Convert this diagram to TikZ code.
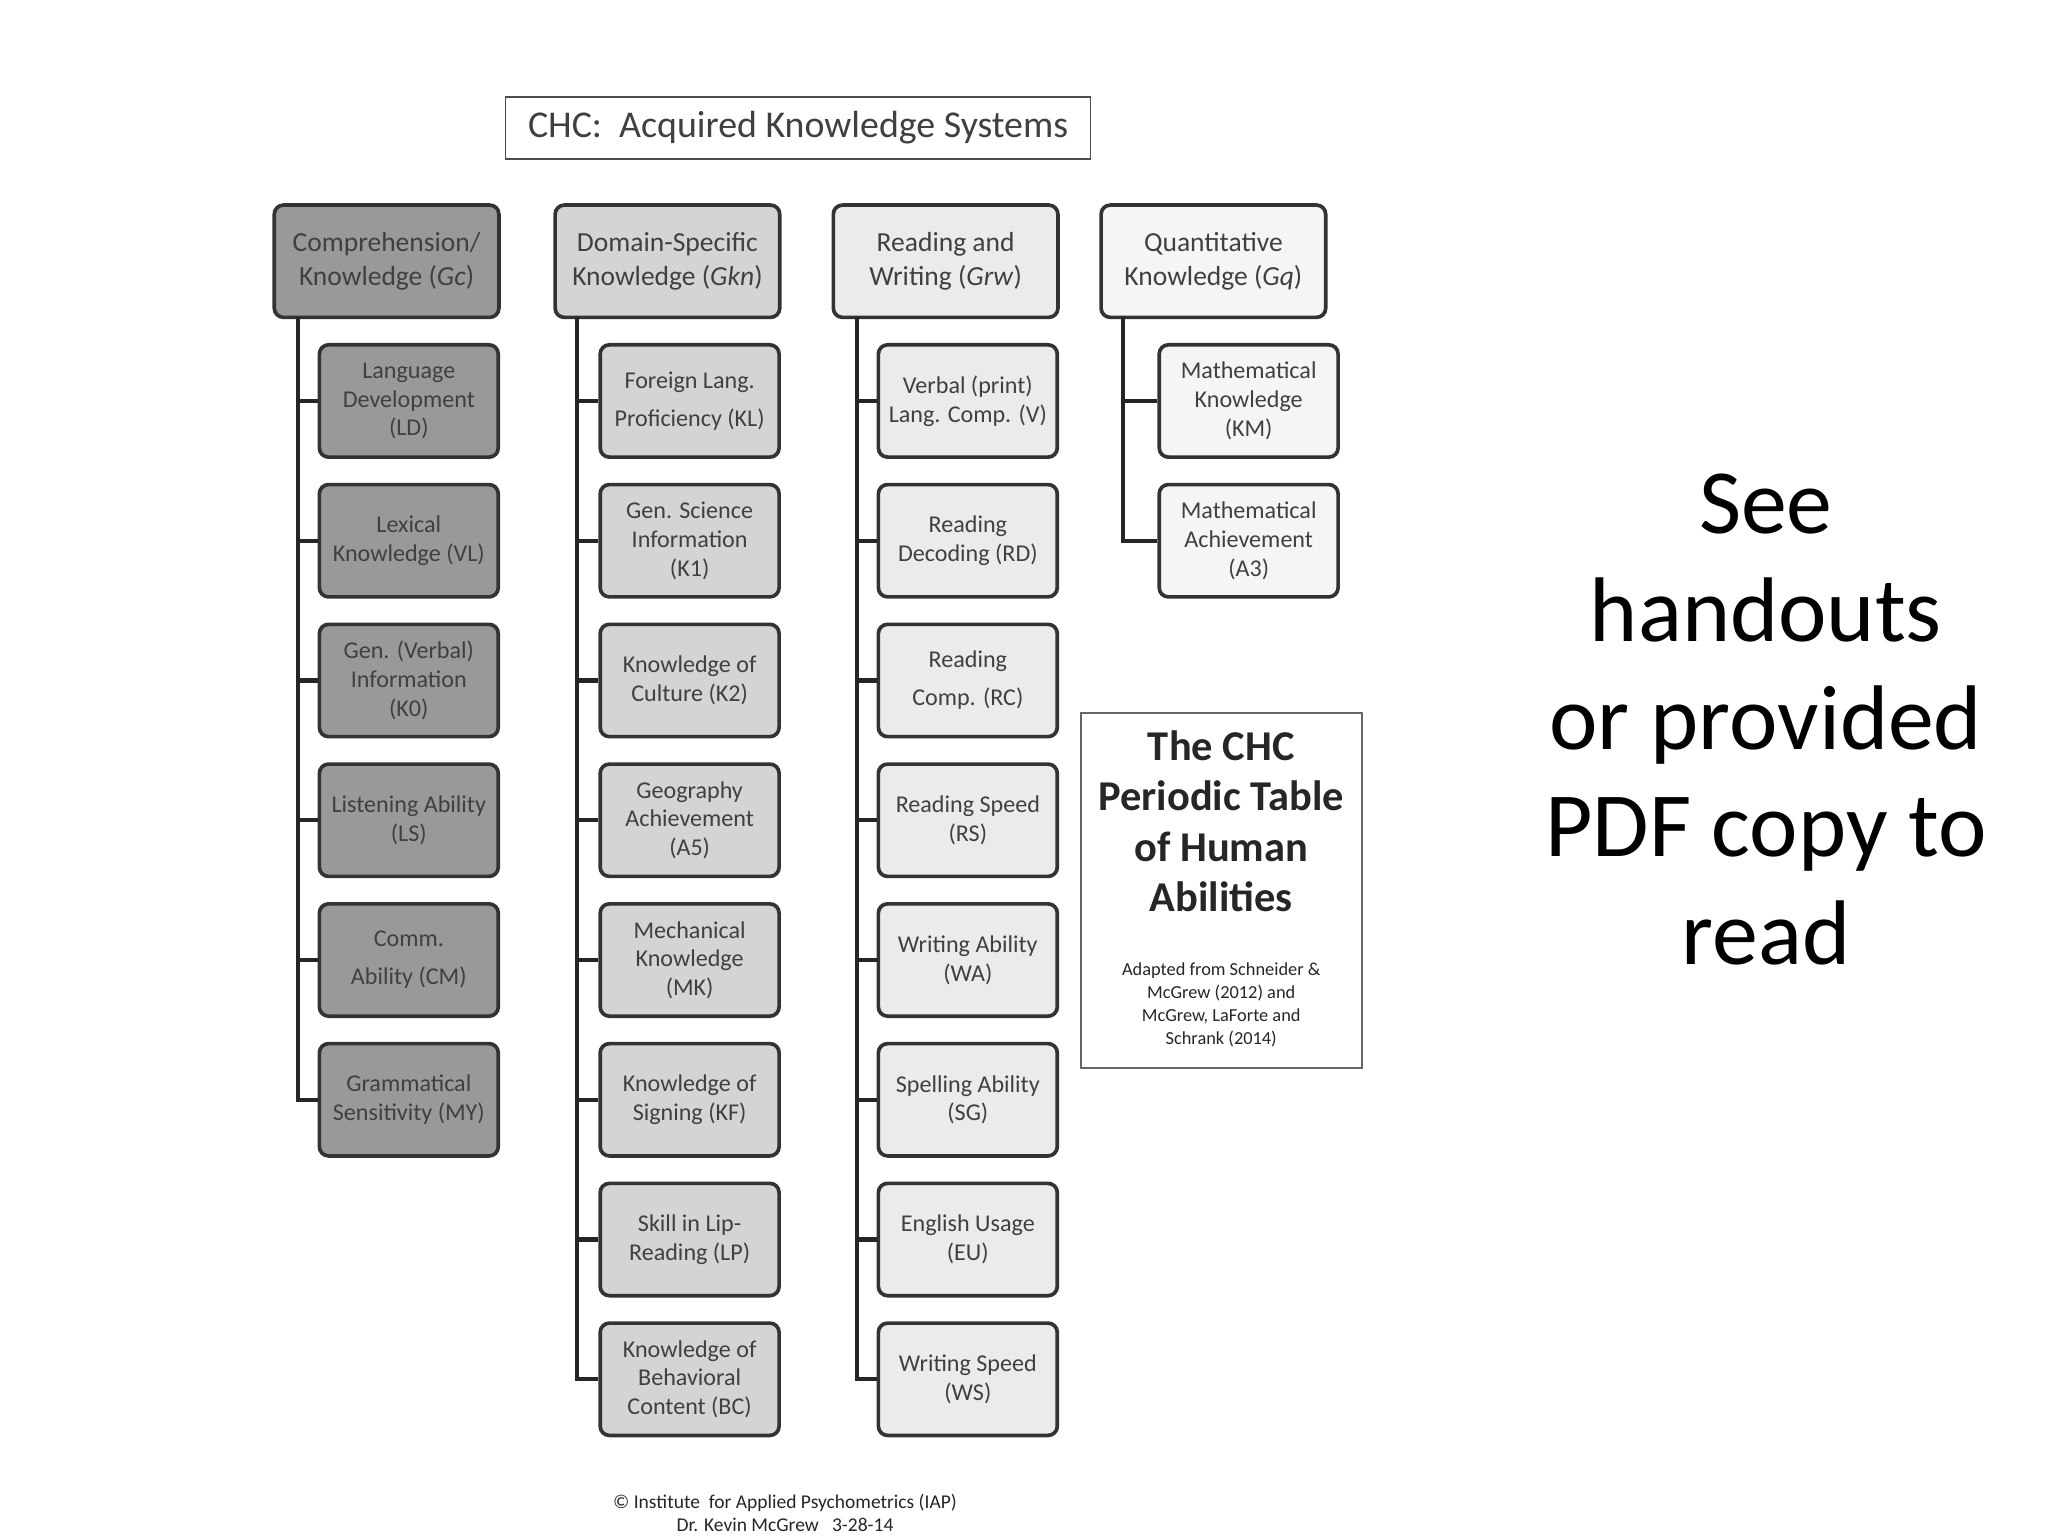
\documentclass[tikz,border=0pt]{standalone}
\usepackage{fontspec}
\setmainfont{Carlito}
\begin{document}
\begin{tikzpicture}[x=0.02cm,y=-0.02cm,
  box/.style={draw=black!80,line width=1.6pt,rounded corners=4pt,align=center,
    minimum width=2.74cm,minimum height=1.72cm,font=\fontsize{10.5}{12.5}\selectfont,text=black!75,inner sep=1pt},
  head/.style={box,minimum width=3.44cm,font=\fontsize{12}{14.5}\selectfont},
  conn/.style={draw=black!85,line width=1.8pt}]
\useasboundingbox (0,0) rectangle (1568,1176);
\fill[white] (0,0) rectangle (1568,1176);
\node[draw=black!70,line width=0.8pt,minimum width=8.96cm,minimum height=0.96cm,font=\fontsize{16.5}{18}\selectfont,text=black!75] (title) at (611,98) {CHC:\ \ Acquired Knowledge Systems};
% headers
\node[head,fill=black!40] (h1) at (296,200) {Comprehension/\\Knowledge (\textit{Gc})};
\node[head,fill=black!17] (h2) at (511,200) {Domain-Specific\\Knowledge (\textit{Gkn})};
\node[head,fill=black!8] (h3) at (724,200) {Reading and\\Writing (\textit{Grw})};
\node[head,fill=black!4] (h4) at (929,200) {Quantitative\\Knowledge (\textit{Gq})};
% column 1
\foreach \t [count=\i] in {Language\\Development\\(LD),Lexical\\Knowledge (VL),Gen. (Verbal)\\Information\\(K0),Listening Ability\\(LS),Comm.\\[4pt]Ability (CM),Grammatical\\Sensitivity (MY)}{
  \node[box,fill=black!40] (a\i) at (313,{307+107*(\i-1)}) {\t};
  \draw[conn] (228,243) |- (a\i.west);
}
\foreach \t [count=\i] in {Foreign Lang.\\[4pt]Proficiency (KL),Gen. Science\\Information\\(K1),Knowledge of\\Culture (K2),Geography\\Achievement\\(A5),Mechanical\\Knowledge\\(MK),Knowledge of\\Signing (KF),Skill in Lip-\\Reading (LP),Knowledge of\\Behavioral\\Content (BC)}{
  \node[box,fill=black!17] (b\i) at (528,{307+107*(\i-1)}) {\t};
  \draw[conn] (442,243) |- (b\i.west);
}
\foreach \t [count=\i] in {Verbal (print)\\Lang. Comp. (V),Reading\\Decoding (RD),Reading\\[4pt]Comp. (RC),Reading Speed\\(RS),Writing Ability\\(WA),Spelling Ability\\(SG),English Usage\\(EU),Writing Speed\\(WS)}{
  \node[box,fill=black!8] (c\i) at (741,{307+107*(\i-1)}) {\t};
  \draw[conn] (656,243) |- (c\i.west);
}
\foreach \t [count=\i] in {Mathematical\\Knowledge\\(KM),Mathematical\\Achievement\\(A3)}{
  \node[box,fill=black!4] (d\i) at (956,{307+107*(\i-1)}) {\t};
  \draw[conn] (860,243) |- (d\i.west);
}
\node[draw=black!60,line width=0.8pt,minimum width=4.3cm,minimum height=5.44cm,align=center,anchor=north,inner sep=0pt] (chc) at (935,545) {};
\node[align=center,font=\bfseries\fontsize{18.5}{22}\selectfont,text=black!85,anchor=north] (chct) at (935,553) {The CHC\\Periodic Table\\of Human\\Abilities};
\node[align=center,font=\fontsize{8}{10}\selectfont,text=black!85,anchor=north] (chcs) at (935,731) {Adapted from Schneider \&\\McGrew (2012) and\\McGrew, LaForte and\\Schrank (2014)};
\node[align=center,font=\fontsize{40}{47}\selectfont] (see) at (1352,551) {See\\handouts\\or provided\\PDF copy to\\read};
\node[align=center,font=\fontsize{8.5}{10}\selectfont,text=black!85] (foot) at (601,1158) {\textcopyright\ Institute\ \ for Applied Psychometrics (IAP)\\Dr. Kevin McGrew\ \ \ 3-28-14};
\end{tikzpicture}
\end{document}
